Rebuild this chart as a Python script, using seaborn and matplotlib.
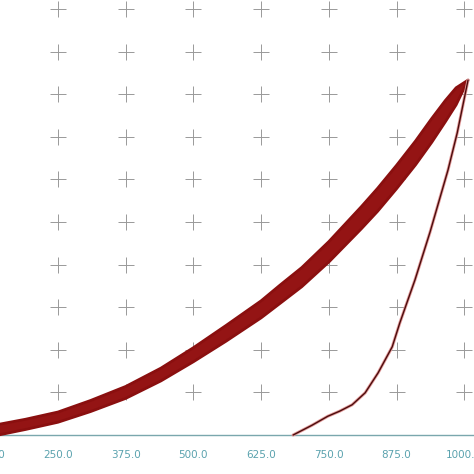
import numpy as np
import pandas as pd
import seaborn as sns
import matplotlib.pyplot as plt
from matplotlib.ticker import MultipleLocator, FormatStrFormatter

# thick band (overlapping loading cycles)
band_x = [120, 140, 190, 250, 310, 375, 440, 500, 560, 625, 660, 700,
          750, 810, 840, 875, 910, 940, 965, 985, 1007]
band_upper = [0.19, 0.25, 0.37, 0.54, 0.81, 1.14, 1.57, 2.05, 2.57, 3.15, 3.52, 3.93,
              4.54, 5.36, 5.79, 6.33, 6.90, 7.43, 7.85, 8.15, 8.33]
band_lower = [-0.05, 0.00, 0.13, 0.30, 0.55, 0.86, 1.27, 1.72, 2.20, 2.75, 3.09, 3.48,
              4.06, 4.84, 5.25, 5.78, 6.34, 6.87, 7.35, 7.75, 8.33]

# thin unloading curve
thin_x = [684, 719, 748, 770, 793, 817, 841, 867, 881, 894, 909, 937, 970, 987, 1007]
thin_y = [0.0, 0.23, 0.44, 0.56, 0.71, 0.99, 1.46, 2.07, 2.63, 3.10, 3.64, 4.77, 6.22, 7.09, 8.33]

x_ticks = [125, 250, 375, 500, 625, 750, 875, 1000]
grid_rows = [1, 2, 3, 4, 5, 6, 7, 8, 9, 10]

sns.set_style("white")
plt.rcParams['font.family'] = ['DejaVu Sans']

fig = plt.figure(figsize=(4.74, 4.74), dpi=100)
# axes reach a bit past the left edge so the cut 125.0 label shows
ax = fig.add_axes([-30 / 474, 0, 504 / 474, 1])

# grid of small crosses
gx, gy = np.meshgrid(x_ticks, grid_rows)
ax.scatter(gx.ravel(), gy.ravel(), marker='+', s=120, color='#999999',
           linewidths=0.7, zorder=1)

ax.fill_between(band_x, band_lower, band_upper, color='#941414',
                edgecolor='#8a0f0f', linewidth=2.0, zorder=3)

thin = pd.DataFrame({'x': thin_x, 'y': thin_y})
sns.lineplot(data=thin, x='x', y='y', ax=ax, color='#e39a9a', linewidth=2.2,
             sort=False, zorder=3)
sns.lineplot(data=thin, x='x', y='y', ax=ax, color='#4a0c0c', linewidth=1.0,
             sort=False, zorder=4)

ax.set_xlim(87.5, 1018)
ax.set_ylim(-0.915, 10.21)

for s in ['top', 'right', 'left']:
    ax.spines[s].set_visible(False)
ax.spines['bottom'].set_position(('data', 0))
ax.spines['bottom'].set_color('#7aa7ad')
ax.spines['bottom'].set_linewidth(1.0)

ax.xaxis.set_major_locator(MultipleLocator(125))
ax.xaxis.set_minor_locator(MultipleLocator(62.5))
ax.xaxis.set_major_formatter(FormatStrFormatter('%.1f'))
ax.tick_params(axis='x', which='major', direction='inout', length=9, width=0.8,
               color='#7aa7ad', labelcolor='#5aa2ae', labelsize=7.5, pad=6)
ax.tick_params(axis='x', which='minor', direction='inout', length=4, width=0.8,
               color='#7aa7ad')
ax.set_yticks([])
ax.set_xlabel('')
ax.set_ylabel('')

fig.savefig('out.png', dpi=100)
